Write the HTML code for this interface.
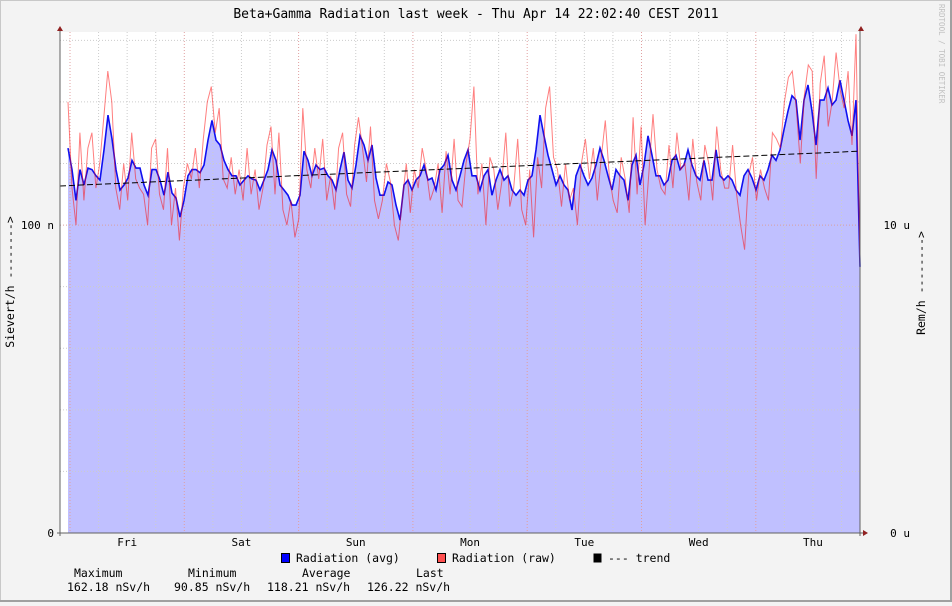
<!DOCTYPE html>
<html><head><meta charset="utf-8"><style>
html,body{margin:0;padding:0;}
body{width:952px;height:602px;background:#f3f3f3;overflow:hidden;font-family:"DejaVu Sans Mono","Liberation Mono",monospace;}
svg text{font-family:"DejaVu Sans Mono","Liberation Mono",monospace;}
</style></head><body>
<svg id="chart" width="952" height="602" xmlns="http://www.w3.org/2000/svg">
<rect x="0.5" y="0.5" width="950" height="600" fill="#f3f3f3" stroke="#c8c8c8"/>
<line x1="951" y1="0" x2="951" y2="602" stroke="#a0a0a0" stroke-width="2"/>
<line x1="0" y1="601" x2="952" y2="601" stroke="#a0a0a0" stroke-width="2"/>
<rect x="60" y="32" width="800" height="501" fill="#ffffff"/>
<g id="fillg"></g><g id="gridg"></g><g id="lineg"></g><g id="axisg"></g>
<text x="476" y="18" font-size="13" text-anchor="middle" fill="#000">Beta+Gamma Radiation last week - Thu Apr 14 22:02:40 CEST 2011</text>
<text transform="translate(14,282) rotate(-90)" font-size="11.5" text-anchor="middle">Sievert/h --------&gt;</text>
<text transform="translate(925,283) rotate(-90)" font-size="11.5" text-anchor="middle">Rem/h --------&gt;</text>
<text transform="translate(939,4) rotate(90)" font-size="7.5" fill="#c0c0c0">RRDTOOL / TOBI OETIKER</text>
<g font-size="11.5">
<rect x="281.5" y="553.5" width="8" height="9" fill="#0000ff" stroke="#000"/>
<text x="296" y="562">Radiation (avg)</text>
<rect x="437.5" y="553.5" width="8" height="9" fill="#ff5050" stroke="#000"/>
<text x="452" y="562">Radiation (raw)</text>
<rect x="593.5" y="553.5" width="8" height="9" fill="#000"/>
<text x="608" y="562">--- trend</text>
</g>
<g font-size="11.5">
<text x="74" y="577">Maximum</text><text x="188" y="577">Minimum</text><text x="302" y="577">Average</text><text x="416" y="577">Last</text>
<text x="67" y="591">162.18 nSv/h</text><text x="174" y="591">90.85 nSv/h</text><text x="267" y="591">118.21 nSv/h</text><text x="367" y="591">126.22 nSv/h</text>
</g>
</svg>
<script>
const avgValues=[125,118,108,118,113,118.5,118,116,114.6,124.4,135.7,128,118,111.4,113,115.3,121,118.5,118.5,113,109.7,118,118,114.6,109.7,117.2,110.4,108.8,102.6,108,116,118,118,117,119.5,127.6,134,127.6,126,121,118,116,116,113,114.6,116,115,114.6,111.4,114.6,118,124.4,121,113,111.4,109.7,106.5,106.5,109.7,124,121,116,119.5,118,118.5,116,114.6,111.4,118,123.7,114.6,112,119.5,129,126,121,126,115.3,109.7,109.7,114,113,106.5,101.6,113,114.6,111.4,114.6,116,119.5,114.6,115.3,111.4,118,119.5,122.7,114.6,111.4,116,121,124.4,116,116,111.4,116,118,109.7,114.6,118,114.6,116,111.4,109.7,111.4,109.7,114.6,116,124.4,135.7,129,122.7,118,113,116,113,111.4,104.9,116,119.5,116,113,115.3,119.5,125,121,116,111.4,118,116,114.6,108,119.5,122.7,113,119.5,129,122.7,116,116,113,114.6,121,122.7,118,119.5,124.4,119.5,116,114.6,121,114.6,114.6,124.4,116,114.6,116,114.6,111.4,109.7,116,118,115.3,111.4,116,114.6,118,122.7,121,124.4,131,137,142,140.6,127.6,140.6,145.5,137,126,140.6,140.6,144.5,139,140.6,147,140.6,134,129,140.6,86.4];
const rawValues=[140,112,100,130,108,125,130,112,120,135,150,140,112,105,120,108,130,115,112,110,100,125,128,110,105,125,100,112,95,112,120,115,125,112,128,140,145,130,138,115,112,122,110,118,108,125,110,118,105,112,126,132,110,130,105,100,108,96,102,138,118,112,125,115,128,108,116,105,125,130,110,106,126,135,125,114,132,108,102,108,120,114,100,95,108,120,104,118,112,125,118,108,112,120,104,124,110,128,108,106,120,128,145,110,120,100,122,118,105,114,130,106,112,128,105,100,118,96,122,112,138,145,122,118,106,120,108,112,100,120,128,115,125,108,122,134,116,108,104,122,115,104,135,110,132,100,118,136,118,112,110,126,112,130,118,120,108,128,114,108,126,120,108,132,118,112,112,126,110,100,92,116,122,108,118,112,108,130,128,125,140,148,150,138,120,142,152,150,115,146,155,132,140,156,144,138,150,126,162,86];
const trendValues=[112.7,124.0];
const dayLabels=["Fri","Sat","Sun","Mon","Tue","Wed","Thu"];
const yTickValues=[0,100];
const yTickLabels=["0","100 n"];
const yRightLabels=["0 u","10 u"];

const NS="http://www.w3.org/2000/svg";
const X0=60,X1=860,Y0=533,YT=32,VMAX=162.7;
const DATA_X0=68,DATA_X1=860;
const DAY_PX=114.3,FIRST_MIDNIGHT=70;
function yS(v){return Y0-(v/VMAX)*(Y0-YT);}
function xIdx(i,n){return DATA_X0+i*(DATA_X1-DATA_X0)/(n-1);}
function mk(tag,attrs,parent){const e=document.createElementNS(NS,tag);for(const k in attrs)e.setAttribute(k,attrs[k]);parent.appendChild(e);return e;}
const fillg=document.getElementById('fillg'),gridg=document.getElementById('gridg'),lineg=document.getElementById('lineg'),axisg=document.getElementById('axisg');

let d="M"+xIdx(0,avgValues.length)+","+Y0;
avgValues.forEach((v,i)=>{d+=" L"+xIdx(i,avgValues.length).toFixed(1)+","+yS(v).toFixed(1);});
d+=" L"+DATA_X1+","+Y0+" Z";
const area=mk('path',{d:d,fill:'#c0c0ff'},fillg);



for(let v=20;v<VMAX;v+=20){
  const l=mk('line',{x1:X0,x2:X1,y1:yS(v),y2:yS(v),stroke:v%100===0?'#d8a0a0':'#cccccc','stroke-dasharray':'1,2','stroke-width':1},gridg);
  
  
}
for(let k=-1;k<28;k++){
  const x=FIRST_MIDNIGHT+k*DAY_PX/4;
  if(x<=X0||x>=X1)continue;
  const major=(k%4===0);
  const l=mk('line',{x1:x,x2:x,y1:YT,y2:Y0,stroke:major?'#e0a0a0':'#cccccc','stroke-dasharray':'1,2','stroke-width':1},gridg);
  
  
}

let pa="";
avgValues.forEach((v,i)=>{pa+=(i?" L":"M")+xIdx(i,avgValues.length).toFixed(1)+","+yS(v).toFixed(1);});
const avgLine=mk('path',{d:pa,fill:'none',stroke:'#1010f0','stroke-width':1.6,'stroke-linejoin':'miter'},lineg);


let pr="";
rawValues.forEach((v,i)=>{pr+=(i?" L":"M")+xIdx(i,rawValues.length).toFixed(1)+","+yS(v).toFixed(1);});
const rawLine=mk('path',{d:pr,fill:'none',stroke:'rgba(255,0,0,0.5)','stroke-width':1},lineg);


const tr=mk('line',{x1:X0,x2:X1,y1:yS(trendValues[0]),y2:yS(trendValues[1]),stroke:'#000','stroke-width':1,'stroke-dasharray':'6,3'},lineg);



mk('line',{x1:X0,x2:X0,y1:29,y2:536,stroke:'#606060'},axisg);
mk('line',{x1:X1,x2:X1,y1:29,y2:536,stroke:'#606060'},axisg);
mk('line',{x1:57,x2:864,y1:Y0,y2:Y0,stroke:'#606060'},axisg);
mk('path',{d:'M57,31 L60,26 L63,31 Z',fill:'#902020'},axisg);
mk('path',{d:'M858,31 L861,26 L864,31 Z',fill:'#902020'},axisg);
mk('path',{d:'M863,530 L868,533 L863,536 Z',fill:'#902020'},axisg);
yTickValues.forEach((v,i)=>{
  const t=mk('text',{x:54,y:yS(v)+4,'font-size':11,'text-anchor':'end'},axisg);
  t.textContent=yTickLabels[i];
  
  
  const t2=mk('text',{x:910,y:yS(v)+4,'font-size':11,'text-anchor':'end'},axisg);
  t2.textContent=yRightLabels[i];
  
  
});
dayLabels.forEach((lab,i)=>{
  const t=mk('text',{x:FIRST_MIDNIGHT+DAY_PX*(i+0.5),y:546,'font-size':11,'text-anchor':'middle'},axisg);
  t.textContent=lab;
  
  
});
</script>
</body></html>
